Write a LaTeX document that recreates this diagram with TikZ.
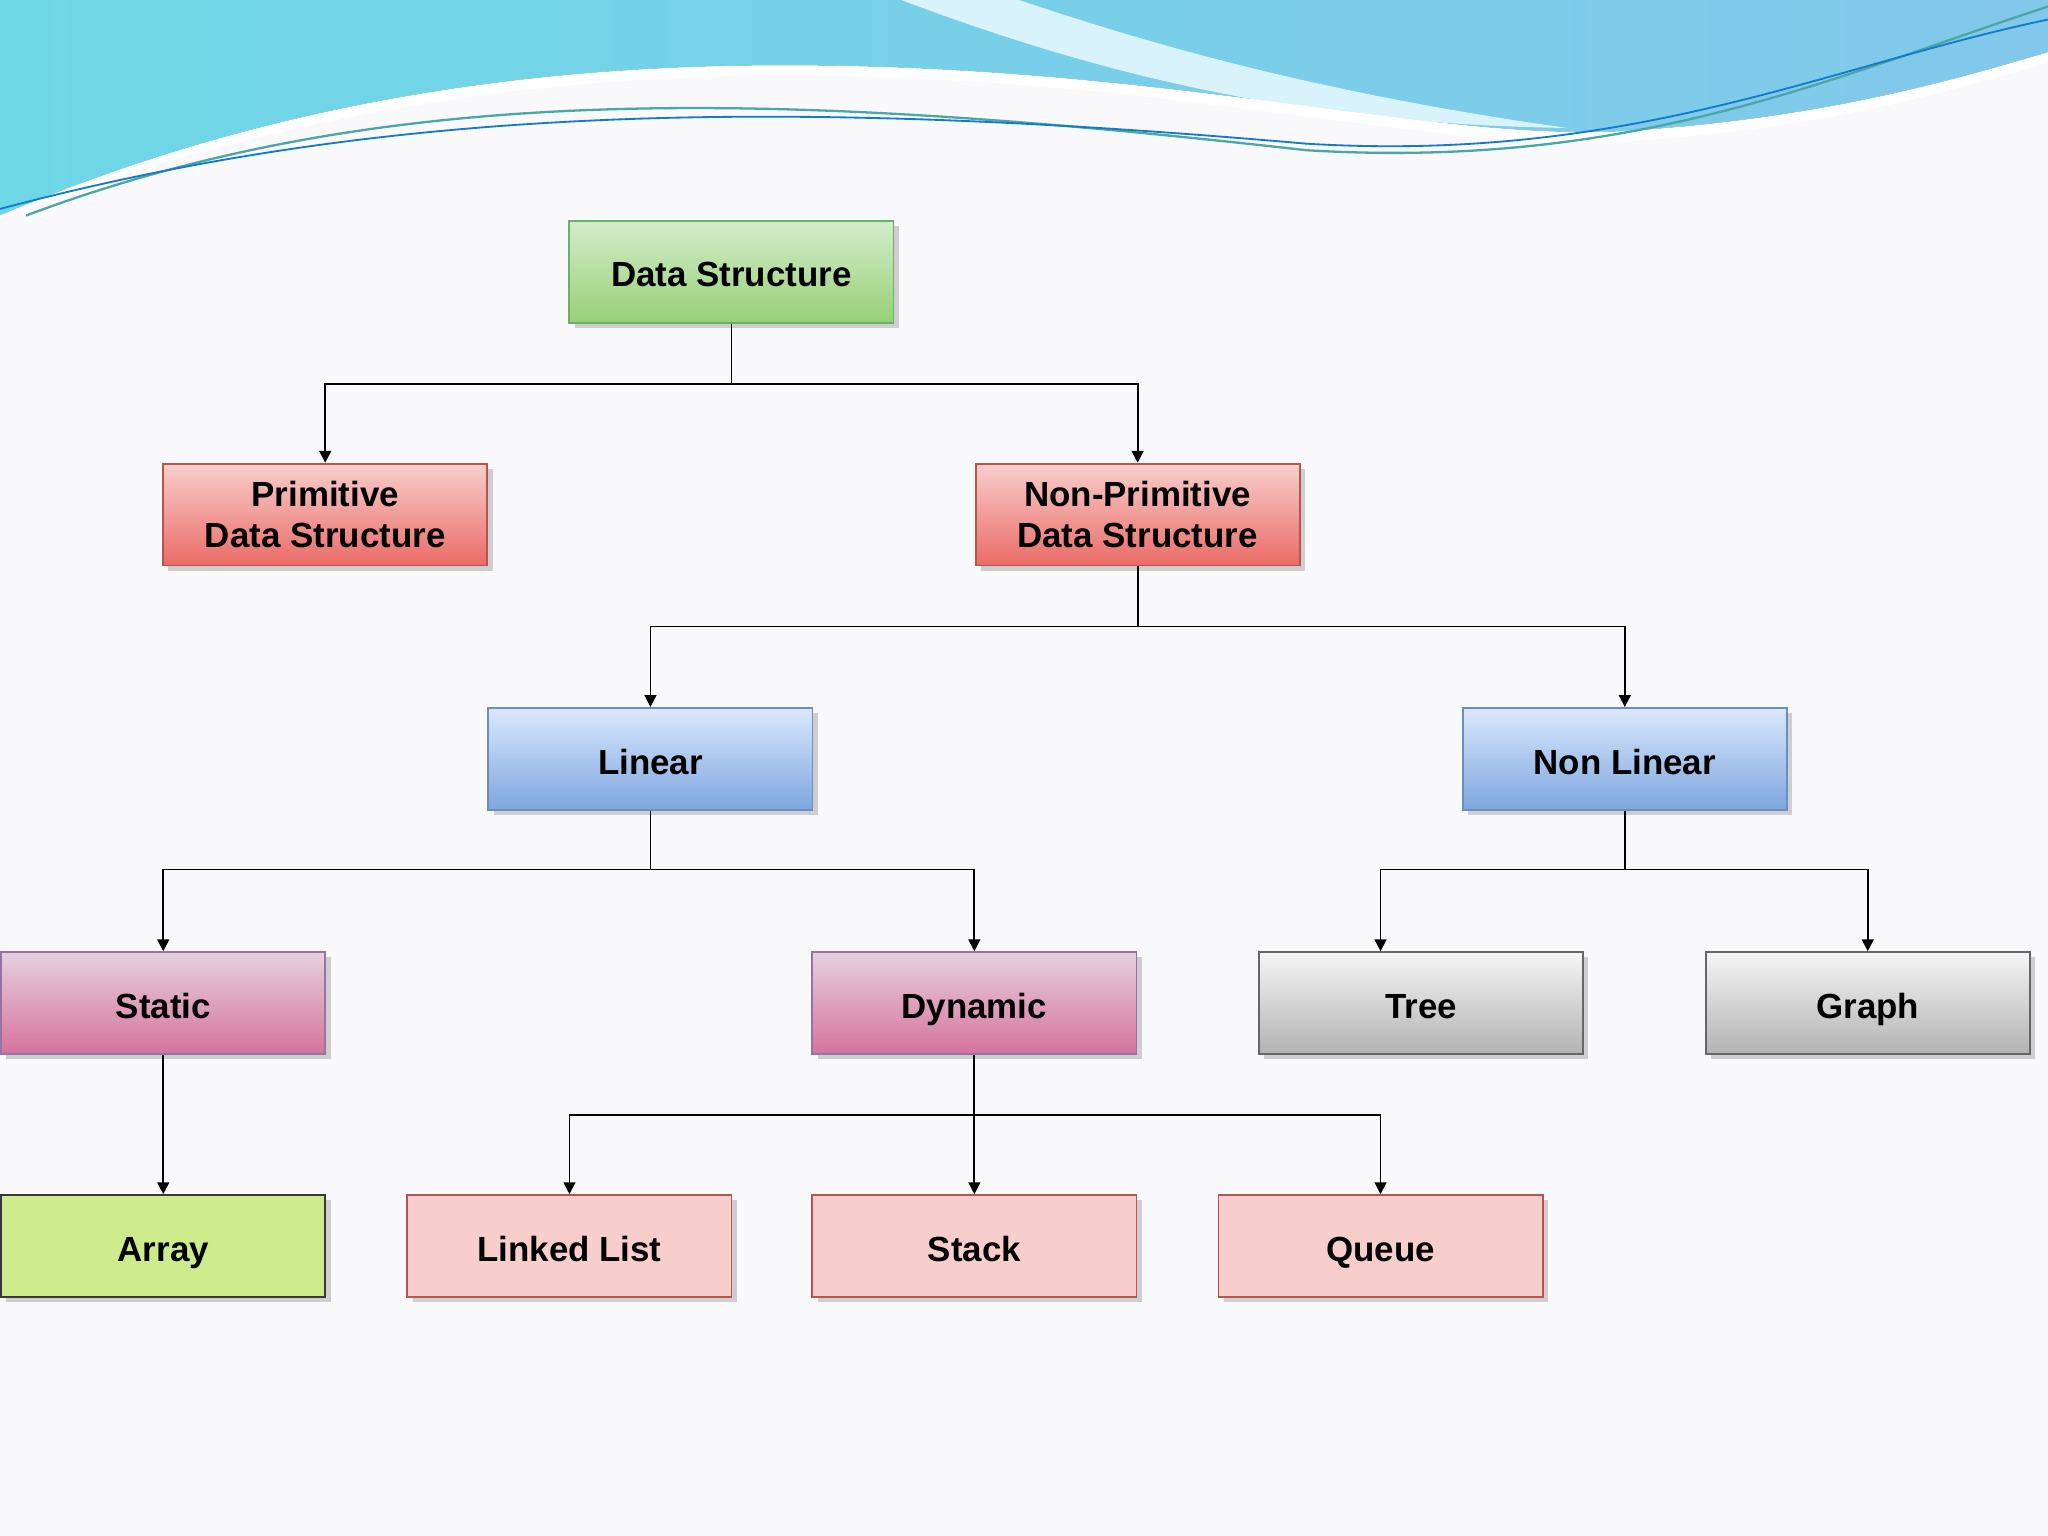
\documentclass[tikz,border=0pt]{standalone}
\usepackage{fontspec}
\setmainfont{Liberation Sans}
\usetikzlibrary{shadows,arrows.meta}
\definecolor{bg}{HTML}{F9F9FC}
\tikzset{
 bx/.style={draw, minimum width=2.48cm, minimum height=0.78cm, align=center,
   font=\fontsize{7.6}{9}\selectfont\bfseries, drop shadow={shadow xshift=0.04cm,shadow yshift=-0.04cm,opacity=0.35}},
 one/.style={text height=1.7ex, text depth=0.45ex},
 grn/.style={bx, draw=green!50!black!60, top color={rgb,255:red,213;green,236;blue,203}, bottom color={rgb,255:red,151;green,208;blue,119}},
 redb/.style={bx, draw={rgb,255:red,184;green,84;blue,80}, top color={rgb,255:red,248;green,206;blue,204}, bottom color={rgb,255:red,234;green,107;blue,102}},
 blu/.style={bx, draw={rgb,255:red,108;green,142;blue,191}, top color={rgb,255:red,218;green,232;blue,252}, bottom color={rgb,255:red,126;green,166;blue,224}},
 pnk/.style={bx, draw={rgb,255:red,150;green,115;blue,166}, top color={rgb,255:red,230;green,208;blue,222}, bottom color={rgb,255:red,213;green,115;blue,157}},
 gry/.style={bx, draw={rgb,255:red,102;green,102;blue,102}, top color={rgb,255:red,245;green,245;blue,245}, bottom color={rgb,255:red,179;green,179;blue,179}},
 lim/.style={bx, draw={rgb,255:red,54;green,57;blue,60}, fill={rgb,255:red,205;green,235;blue,139}},
 lrd/.style={bx, draw={rgb,255:red,184;green,84;blue,80}, fill={rgb,255:red,248;green,206;blue,204}},
 arr/.style={-{Triangle[length=0.09cm,width=0.09cm]}, line width=0.4pt}
}
\begin{document}
\begin{tikzpicture}[x=0.01cm,y=-0.01cm]
\fill[bg] (0,0) rectangle (1568,1176);
\useasboundingbox (0,0) rectangle (1568,1176);
% header wave
\fill[left color={rgb,255:red,110;green,215;blue,230}, right color={rgb,255:red,130;green,200;blue,235}]
 (0,165) .. controls (200,80) and (400,50) .. (600,50) .. controls (900,50) and (1100,110) .. (1250,100) .. controls (1400,90) and (1500,60) .. (1568,40) -- (1568,0) -- (0,0) -- cycle;
\fill[white!85!cyan] (690,0) .. controls (850,60) and (1000,95) .. (1200,98) .. controls (1000,70) and (870,30) .. (780,0) -- cycle;
\fill[white] (0,168) .. controls (200,90) and (400,58) .. (600,58) .. controls (900,58) and (1100,118) .. (1250,108) .. controls (1400,98) and (1500,68) .. (1568,48) -- (1568,40) .. controls (1500,60) and (1400,90) .. (1250,100) .. controls (1100,110) and (900,50) .. (600,50) .. controls (400,50) and (200,80) .. (0,165) -- cycle;
\draw[teal!70, line width=0.5pt] (20,165) .. controls (300,60) and (600,70) .. (1000,115) .. controls (1250,130) and (1400,60) .. (1568,5);
\draw[cyan!60!blue, line width=0.4pt] (0,160) .. controls (300,80) and (600,75) .. (1000,110) .. controls (1250,125) and (1400,50) .. (1568,15);
% nodes
\node[grn,one]  (ds)  at (560,208) {Data Structure};
\node[redb] (pr)  at (249,394) {Primitive\\Data Structure};
\node[redb] (np)  at (871,394) {Non-Primitive\\Data Structure};
\node[blu,one]  (li)  at (498,581) {Linear};
\node[blu,one]  (nl)  at (1244,581) {Non Linear};
\node[pnk,one]  (st)  at (125,768) {Static};
\node[pnk,one]  (dy)  at (746,768) {Dynamic};
\node[gry,one]  (tr)  at (1088,768) {Tree};
\node[gry,one]  (gr)  at (1430,768) {Graph};
\node[lim,one]  (ar)  at (125,954) {Array};
\node[lrd,one]  (ll)  at (436,954) {Linked List};
\node[lrd,one]  (sk)  at (746,954) {Stack};
\node[lrd,one]  (qu)  at (1057,954) {Queue};
% connectors
\draw[arr] (ds.south) -- ++(0,46) -| (pr.north);
\draw[arr] (ds.south) -- ++(0,46) -| (np.north);
\draw[arr] (np.south) -- ++(0,46) -| (li.north);
\draw[arr] (np.south) -- ++(0,46) -| (nl.north);
\draw[arr] (li.south) -- ++(0,45) -| (st.north);
\draw[arr] (li.south) -- ++(0,45) -| (dy.north);
\draw[arr] (nl.south) -- ++(0,45) -| ([xshift=-0.31cm]tr.north);
\draw[arr] (nl.south) -- ++(0,45) -| (gr.north);
\draw[arr] (st.south) -- (ar.north);
\draw[arr] (dy.south) -- ++(0,46) -| (ll.north);
\draw[arr] (dy.south) -- (sk.north);
\draw[arr] (dy.south) -- ++(0,46) -| (qu.north);
\end{tikzpicture}
\end{document}
